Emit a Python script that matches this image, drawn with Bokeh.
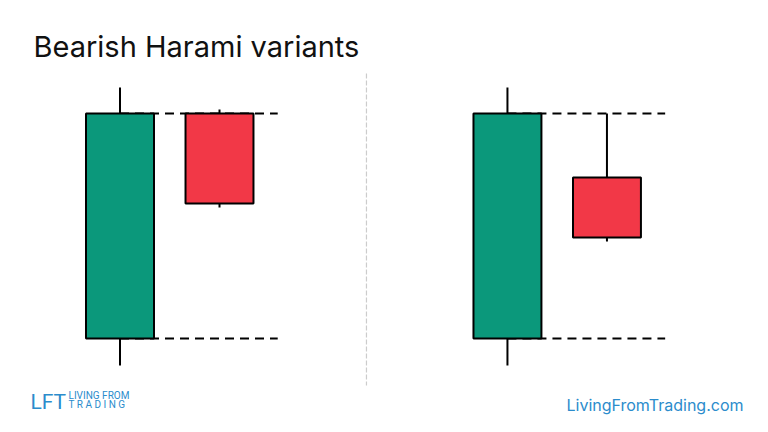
from bokeh.plotting import figure
from bokeh.models import Range1d, Label
from bokeh.embed import file_html
from bokeh.resources import INLINE

# ---- data (prices, arbitrary units) ----
pattern_names = ["variant_1", "variant_2"]
# each pattern: [green (bullish) candle, red (bearish) candle]
v1_open = [0.0, 100.0]
v1_close = [100.0, 60.0]
v1_high = [111.6, 101.8]
v1_low = [-12.0, 58.2]

v2_open = [0.0, 71.6]
v2_close = [100.0, 44.9]
v2_high = [111.6, 100.0]
v2_low = [-12.0, 43.1]

candle_index = [0, 1]
pattern_offset = [0.0, 3.894]

title_text = "Bearish Harami variants"
logo_big = "LFT"
logo_line1 = "LIVING FROM"
logo_line2 = "T R A D I N G"
site_text = "LivingFromTrading.com"

GREEN = "#0b987b"
RED = "#f23847"
BLUE = "#2b8ccc"

W, H = 760, 424
x0 = -119.5 / 99.5
p = figure(width=W, height=H, output_backend="svg", toolbar_location=None,
           x_range=Range1d(x0, x0 + W / 99.5),
           y_range=Range1d((338 - H) / 2.25, 338 / 2.25), min_border=0)
p.axis.visible = False
p.grid.visible = False
p.outline_line_color = None
p.background_fill_color = "white"
p.border_fill_color = "white"

patterns = [(v1_open, v1_close, v1_high, v1_low), (v2_open, v2_close, v2_high, v2_low)]
for (o, c, h, l), off in zip(patterns, pattern_offset):
    xs = [i + off for i in candle_index]
    top = max(o[0], c[0])
    bot = min(o[0], c[0])
    x_end = xs[0] + 1.585
    p.segment(x0=[xs[0], xs[0]], y0=[top, bot], x1=[x_end, x_end], y1=[top, bot],
              line_color="black", line_width=2, line_dash="9 6")
    p.segment(x0=xs, y0=h, x1=xs, y1=l, line_color="black", line_width=2)
    colors = [GREEN if cc >= oo else RED for oo, cc in zip(o, c)]
    p.vbar(x=xs, width=0.683, top=[max(a, b) for a, b in zip(o, c)],
           bottom=[min(a, b) for a, b in zip(o, c)], fill_color=colors,
           line_color="black", line_width=2)

# separator
p.segment(x0=[2.477], y0=[117.8], x1=[2.477], y1=[-20.9], line_color="#cccccc",
          line_width=1.2, line_dash="5 2")

def scr(xr, yr):
    return xr, H - yr

tx, ty = scr(33, 46)
p.add_layout(Label(x=tx, y=ty, x_units="screen", y_units="screen", text=title_text,
                   text_font="Inter", text_font_size="29px", text_color="#111111",
                   text_baseline="alphabetic"))

lx, ly = scr(30, 401.5)
p.add_layout(Label(x=lx, y=ly, x_units="screen", y_units="screen", text=logo_big,
                   text_font="Roboto", text_font_size="21px", text_color=BLUE,
                   text_baseline="alphabetic"))
l1x, l1y = scr(68, 394.5)
p.add_layout(Label(x=l1x, y=l1y, x_units="screen", y_units="screen", text=logo_line1,
                   text_font="Roboto", text_font_size="10px", text_color=BLUE,
                   text_baseline="alphabetic"))
l2x, l2y = scr(68, 403.5)
p.add_layout(Label(x=l2x, y=l2y, x_units="screen", y_units="screen", text=logo_line2,
                   text_font="Roboto", text_font_size="10px", text_color=BLUE,
                   text_baseline="alphabetic"))

sx, sy = scr(743, 404.5)
p.add_layout(Label(x=sx, y=sy, x_units="screen", y_units="screen", text=site_text,
                   text_font="Inter", text_font_size="16px", text_color=BLUE,
                   text_align="right", text_baseline="alphabetic"))

open("out.html", "w").write(file_html(p, INLINE))
